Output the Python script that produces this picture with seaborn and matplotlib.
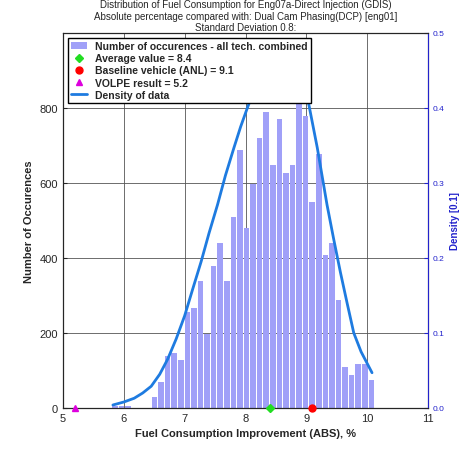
import numpy as np
import pandas as pd
import matplotlib
matplotlib.use("Agg")
import matplotlib.pyplot as plt
import seaborn as sns

bin_start = 5.81
bin_width = 0.108
counts = [5, 5, 5, 0, 0, 0, 29, 69, 139, 148, 128, 257, 268, 338, 198, 379, 439, 338, 509, 689,
          479, 598, 720, 789, 649, 771, 628, 649, 858, 778, 550, 678, 409, 439, 289, 110,
          88, 118, 118, 76]
dens_x = [5.82, 6.0, 6.17, 6.31, 6.45, 6.59, 6.72, 6.86, 7.0, 7.13, 7.27, 7.4, 7.54, 7.67, 7.81,
          7.92, 8.03, 8.15, 8.31, 8.45, 8.58, 8.72, 8.84, 8.91, 9.04, 9.18, 9.34, 9.45, 9.56,
          9.67, 9.78, 9.9, 10.08]
dens_y = [0.004, 0.008, 0.013, 0.02, 0.029, 0.045, 0.065, 0.092, 0.123, 0.158, 0.195, 0.233,
          0.271, 0.31, 0.347, 0.375, 0.4, 0.425, 0.452, 0.466, 0.469, 0.467, 0.462, 0.455,
          0.405, 0.347, 0.271, 0.225, 0.181, 0.14, 0.1, 0.075, 0.047]
avg_val, anl_val, volpe_val = 8.4, 9.1, 5.2

sns.set_style("white")
plt.rcParams['font.family'] = ['Liberation Sans', 'DejaVu Sans']
fig = plt.figure(figsize=(4.74, 4.6), dpi=100)
ax = fig.add_axes([63/474, 51/460, 365/474, 375/460])
edges = [bin_start + i*bin_width for i in range(len(counts))]
df = pd.DataFrame({"x": edges, "c": counts})
h0 = ax.bar(df.x, df.c, width=bin_width*0.85, align='edge', color='#a0a0f8', edgecolor='none',
            label='Number of occurences - all tech. combined', zorder=2)
ax.set_xlim(5, 11)
ax.set_ylim(0, 1000)
ax.set_yticks([0, 200, 400, 600, 800])
ax.set_xticks(range(5, 12))
ax.grid(True, color='#555555', lw=0.6, zorder=0)
ax.set_axisbelow(True)
ax.tick_params(labelsize=8, direction='in', length=3)
ax.set_xlabel('Fuel Consumption Improvement (ABS), %', fontsize=8, fontweight='bold')
ax.set_ylabel('Number of Occurences', fontsize=8, fontweight='bold')
ax.set_title('Distribution of Fuel Consumption for Eng07a-Direct Injection (GDIS)\n'
             'Absolute percentage compared with: Dual Cam Phasing(DCP) [eng01]\nStandard Deviation 0.8:',
             fontsize=7, pad=2)
for s in ax.spines.values():
    s.set_color('black')
ax2 = ax.twinx()
sns.lineplot(x=dens_x, y=dens_y, ax=ax2, color='#1e7be0', lw=2)
h4 = ax2.get_lines()[0]
h1, = ax2.plot([avg_val], [0], 'D', color='#22dd22', ms=4, zorder=5, clip_on=False)
h2, = ax2.plot([anl_val], [0], 'o', color='red', ms=5, zorder=5, clip_on=False)
h3, = ax2.plot([volpe_val], [0], '^', color='#dd00dd', ms=5, zorder=5, clip_on=False)
ax2.set_ylim(0, 0.5)
ax2.set_yticks([0, 0.1, 0.2, 0.3, 0.4, 0.5])
ax2.tick_params(colors='#2222cc', labelsize=6, direction='in', length=3)
ax2.set_ylabel('Density [0.1]', color='#2222cc', fontsize=7, fontweight='bold')
ax2.spines['right'].set_color('#2222cc')
leg = ax2.legend([h0, h1, h2, h3, h4],
                 ['Number of occurences - all tech. combined', 'Average value = 8.4',
                  'Baseline vehicle (ANL) = 9.1', 'VOLPE result = 5.2', 'Density of data'],
                 loc='upper left', frameon=True, fancybox=False, borderpad=0.3, framealpha=1,
                 labelspacing=0.2, handlelength=1.5, prop={'weight': 'bold', 'size': 7.5})
leg.get_frame().set_edgecolor('black')
fig.savefig('out.png', dpi=100)
